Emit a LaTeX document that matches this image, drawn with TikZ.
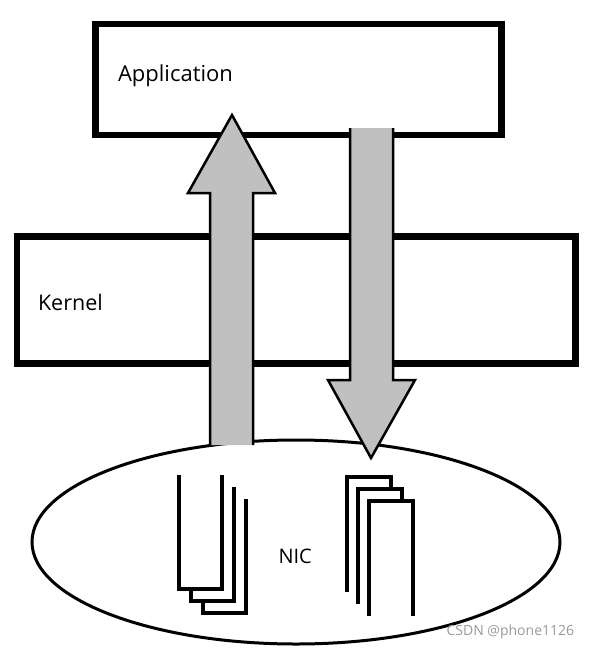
\documentclass[tikz,border=0pt]{standalone}
\usepackage{fontspec}
\setmainfont{Open Sans}
\usetikzlibrary{shapes.geometric}
\definecolor{arrowgray}{RGB}{192,192,192}
\tikzset{
    layer/.style={draw, line width=6.5pt, inner sep=0pt, outer sep=0pt},
    packet/.style={draw, fill=white, line width=4pt},
    arrowline/.style={draw, line width=2.5pt, line join=miter},
}
\begin{document}
\begin{tikzpicture}[x=1pt, y=-1pt]
    \useasboundingbox (0,0) rectangle (590,648);
    % Layers
    \node[layer, minimum width=406pt, minimum height=111pt] (app) at (298.5,79.5) {};
    \node[layer, minimum width=558.5pt, minimum height=127pt] (kernel) at (296.25,300) {};
    \node[ellipse, draw, line width=3pt, inner sep=0pt, minimum width=528pt, minimum height=204pt] (nic) at (296,542) {};

    % Labels
    \node[anchor=base west, font=\fontsize{22}{22}\selectfont] (applabel) at (114.5,81) {Application};
    \node[anchor=base west, font=\fontsize{21.5}{21.5}\selectfont] (kernellabel) at (34.5,310) {Kernel};
    \node[anchor=base west, font=\fontsize{20}{20}\selectfont] (niclabel) at (275,563) {NIC};

    % Packet buffers
    \foreach \i in {2,1,0}
        \path[packet] (179+12*\i,475+12*\i) -- ++(0,114) -- ++(43,0) -- ++(0,-114);
    \foreach \i in {0,1,2}
        \path[packet] (347+11*\i,592+12*\i) -- ++(0,-115) -- ++(44,0) -- ++(0,115);

    % Data path
    \coordinate (upfoot) at (210,445);
    \coordinate (uptip) at (232,115);
    \coordinate (downtop) at (350,128);
    \coordinate (downtip) at (371,458);
    \fill[arrowgray] (upfoot) -- ++(0,-252) -- ++(-22,0) -- (uptip) -- ++(43,78) -- ++(-22,0) -- ++(0,252) -- cycle;
    \path[arrowline] (upfoot) -- ++(0,-252) -- ++(-22,0) -- (uptip) -- ++(43,78) -- ++(-22,0) -- ++(0,252);
    \fill[arrowgray] (downtop) -- ++(0,252) -- ++(-22,0) -- (downtip) -- ++(44,-78) -- ++(-22,0) -- ++(0,-252) -- cycle;
    \path[arrowline] (downtop) -- ++(0,252) -- ++(-22,0) -- (downtip) -- ++(44,-78) -- ++(-22,0) -- ++(0,-252);

    % Watermark
    \node[anchor=base west, text=black!40, font=\fontsize{14}{14}\selectfont] (mark) at (443,635) {CSDN @phone1126};
\end{tikzpicture}
\end{document}
